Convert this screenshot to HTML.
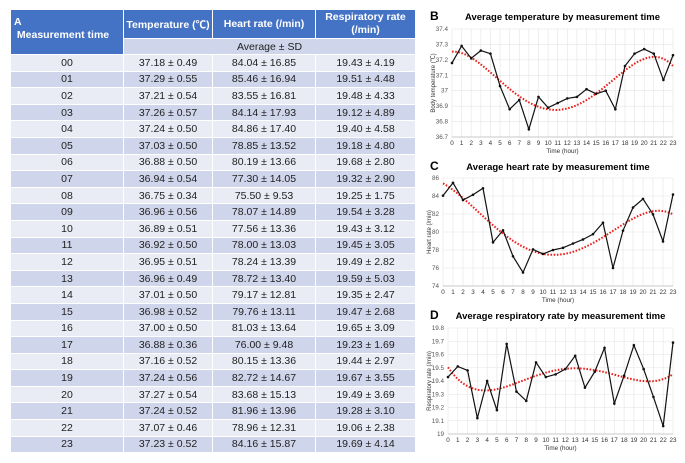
<!DOCTYPE html>
<html><head><meta charset="utf-8"><style>
body{margin:0;width:685px;height:463px;background:#fff;font-family:"Liberation Sans","Noto Sans CJK KR",sans-serif;overflow:hidden;position:relative}
table{position:absolute;left:10px;top:9px;border-collapse:collapse;table-layout:fixed;width:405px;font-size:10.5px;color:#222}
td,th{border:1px solid #fff;text-align:center;padding:0;white-space:nowrap;overflow:hidden}
th{background:#4472c4;color:#fff;font-weight:bold;font-size:10.5px}
tr.o td{background:#cfd5ea}tr.e td{background:#e9ebf5}
tr.r td{height:15.6px}
svg{position:absolute;left:425px;top:0}
</style></head><body>
<table>
<colgroup><col style="width:113px"><col style="width:89px"><col style="width:103px"><col style="width:100px"></colgroup>
<tr style="height:29px"><th rowspan="2" style="text-align:left;padding-left:3px;line-height:13px;vertical-align:top;padding-top:6px">A<br>&nbsp;Measurement time</th><th>Temperature (℃)</th><th>Heart rate (/min)</th><th style="line-height:13px">Respiratory rate<br>(/min)</th></tr>
<tr style="height:16px"><td colspan="3" style="background:#cfd5ea">Average ± SD</td></tr>
<tbody id="tb"></tbody>
</table>
<svg id="sv" width="260" height="463"></svg>
<script>
const hours=["00","01","02","03","04","05","06","07","08","09","10","11","12","13","14","15","16","17","18","19","20","21","22","23"];
const temp=[37.18,37.29,37.21,37.26,37.24,37.03,36.88,36.94,36.75,36.96,36.89,36.92,36.95,36.96,37.01,36.98,37.00,36.88,37.16,37.24,37.27,37.24,37.07,37.23];
const tempSD=["0.49","0.55","0.54","0.57","0.50","0.50","0.50","0.54","0.34","0.56","0.51","0.50","0.51","0.49","0.50","0.52","0.50","0.36","0.52","0.56","0.54","0.52","0.46","0.52"];
const hr=[84.04,85.46,83.55,84.14,84.86,78.85,80.19,77.30,75.50,78.07,77.56,78.00,78.24,78.72,79.17,79.76,81.03,76.00,80.15,82.72,83.68,81.96,78.96,84.16];
const hrSD=["16.85","16.94","16.81","17.93","17.40","13.52","13.66","14.05","9.53","14.89","13.36","13.03","13.39","13.40","12.81","13.11","13.64","9.48","13.36","14.67","15.13","13.96","12.31","15.87"];
const rr=[19.43,19.51,19.48,19.12,19.40,19.18,19.68,19.32,19.25,19.54,19.43,19.45,19.49,19.59,19.35,19.47,19.65,19.23,19.44,19.67,19.49,19.28,19.06,19.69];
const rrSD=["4.19","4.48","4.33","4.89","4.58","4.80","2.80","2.90","1.75","3.28","3.12","3.05","2.82","5.03","2.47","2.68","3.09","1.69","2.97","3.55","3.69","3.10","2.38","4.14"];
const xTicks=[0,1,2,3,4,5,6,7,8,9,10,11,12,13,14,15,16,17,18,19,20,21,22,23];
const tempTicks=[36.7,36.8,36.9,37,37.1,37.2,37.3,37.4];
const hrTicks=[74,76,78,80,82,84,86];
const rrTicks=[19,19.1,19.2,19.3,19.4,19.5,19.6,19.7,19.8];

const tb=document.getElementById('tb');
hours.forEach((h,i)=>{
 const tr=document.createElement('tr');tr.className='r '+(i%2?'o':'e');
 
 
 tr.innerHTML=`<td>${h}</td><td>${temp[i].toFixed(2)} ± ${tempSD[i]}</td><td>${hr[i].toFixed(2)} ± ${hrSD[i]}</td><td>${rr[i].toFixed(2)} ± ${rrSD[i]}</td>`;
 tb.appendChild(tr);
});

const NS='http://www.w3.org/2000/svg';const sv=document.getElementById('sv');
function mk(t,a,p){const e=document.createElementNS(NS,t);for(const k in a)e.setAttribute(k,a[k]);(p||sv).appendChild(e);return e;}
function polyfit(ys,deg){const n=deg+1,A=[],b=[];for(let i=0;i<n;i++){A.push(new Array(n).fill(0));b.push(0);}
 ys.forEach((y,x0)=>{const x=(x0+1)/24;for(let i=0;i<n;i++){b[i]+=y*Math.pow(x,i);for(let j=0;j<n;j++)A[i][j]+=Math.pow(x,i+j);}});
 for(let i=0;i<n;i++){let p=i;for(let r=i+1;r<n;r++)if(Math.abs(A[r][i])>Math.abs(A[p][i]))p=r;[A[i],A[p]]=[A[p],A[i]];[b[i],b[p]]=[b[p],b[i]];
  for(let r=i+1;r<n;r++){const f=A[r][i]/A[i][i];for(let c=i;c<n;c++)A[r][c]-=f*A[i][c];b[r]-=f*b[i];}}
 const c=new Array(n).fill(0);for(let i=n-1;i>=0;i--){let s=b[i];for(let j=i+1;j<n;j++)s-=A[i][j]*c[j];c[i]=s/A[i][i];}
 return x=>c.reduce((s,ci,i)=>s+ci*Math.pow((x+1)/24,i),0);}
function chart(o){
 const g=mk('g',{});
 const ymin=o.ticks[0],ymax=o.ticks[o.ticks.length-1];
 const X=v=>o.x0+(o.x1-o.x0)*v/23,Y=v=>o.yb-(o.yb-o.yt)*(v-ymin)/(ymax-ymin);
 mk('text',{x:5,y:o.ty,'font-size':12,'font-weight':'bold'},g).textContent=o.letter;
 const t=mk('text',{x:(o.x0+o.x1)/2,y:o.ty,'font-size':9.5,'font-weight':'bold','text-anchor':'middle'},g);t.textContent=o.title;
 xTicks.forEach(v=>{mk('line',{x1:X(v),x2:X(v),y1:o.yt,y2:o.yb,stroke:'#e4e4e4','stroke-width':0.6},g);
  const l=mk('text',{x:X(v),y:o.yb+8,'font-size':6.3,'text-anchor':'middle',fill:'#333'},g);l.textContent=v;});
 o.ticks.forEach(v=>{mk('line',{x1:o.x0,x2:o.x1,y1:Y(v),y2:Y(v),stroke:'#e4e4e4','stroke-width':0.6},g);
  const l=mk('text',{x:o.x0-4,y:Y(v)+2,'font-size':6.3,'text-anchor':'end',fill:'#555'},g);l.textContent=v;});
 mk('line',{x1:o.x0,x2:o.x1,y1:o.yb,y2:o.yb,stroke:'#bbb','stroke-width':0.7},g);
 const xl=mk('text',{x:(o.x0+o.x1)/2,y:o.yb+16,'font-size':6.3,'text-anchor':'middle',fill:'#333'},g);xl.textContent='Time (hour)';
 const yl=mk('text',{x:0,y:0,'font-size':6,'text-anchor':'middle',fill:'#333',transform:`translate(${o.yx},${(o.yt+o.yb)/2}) rotate(-90)`},g);yl.textContent=o.ylabel;
 const f=polyfit(o.data,o.deg);let d='';for(let s=0;s<=230;s++){const v=s/10;d+=(s?'L':'M')+X(v).toFixed(1)+','+Y(f(v)).toFixed(1);}
 const tr=mk('path',{d:d,fill:'none',stroke:'#e8211c','stroke-width':2,'stroke-dasharray':'1.6 1.6'},g);
 
 
 const ln=mk('path',{d:o.data.map((v,i)=>(i?'L':'M')+X(i)+','+Y(v)).join(''),fill:'none',stroke:'#111','stroke-width':1.2},g);
 
 
 o.data.forEach((v,i)=>{const c=mk('circle',{cx:X(i),cy:Y(v),r:1.3,fill:'#111'},g);
  
  });
}
chart({name:'temperature-chart',letter:'B',title:'Average temperature by measurement time',ty:20,yt:29,yb:137,yx:10,ylabel:'Body temperature (℃)',ticks:tempTicks,data:temp,deg:4,x0:27,x1:248});
chart({name:'heart-rate-chart',letter:'C',title:'Average heart rate by measurement time',ty:170,yt:178,yb:286,yx:6,ylabel:'Heart rate (/min)',ticks:hrTicks,data:hr,deg:4,x0:18,x1:248});
chart({name:'respiratory-rate-chart',letter:'D',title:'Average respiratory rate by measurement time',ty:319,yt:328,yb:434,yx:6,ylabel:'Respiratory rate (/min)',ticks:rrTicks,data:rr,deg:4,x0:23,x1:248});
</script>
</body></html>
